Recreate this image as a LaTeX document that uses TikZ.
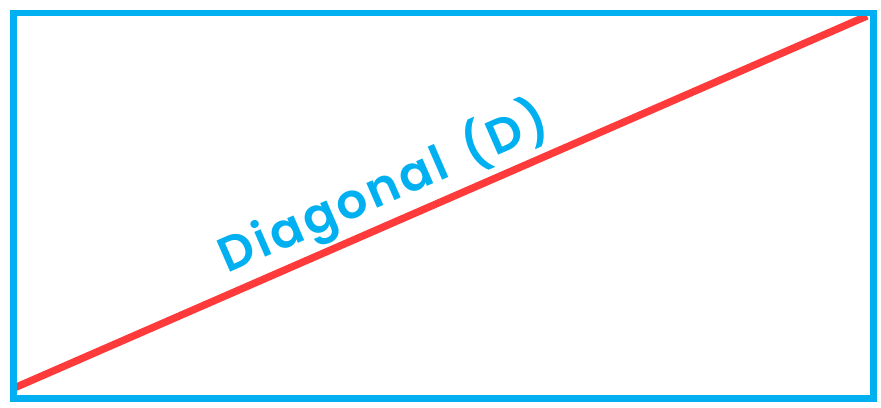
\documentclass[tikz,border=0pt]{standalone}
\usepackage{fontspec}
\newfontfamily\popfont{Poppins}[UprightFont={* SemiBold}, LetterSpace=6]
\definecolor{frameblue}{RGB}{0,176,240}
\definecolor{diagred}{RGB}{255,58,58}
\tikzset{
  framebox/.style={draw=frameblue, line width=4.9pt},
  diagline/.style={draw=diagred, line width=5.5pt},
  diaglabel/.style={text=frameblue, font=\popfont\fontsize{36.5}{40}\selectfont, inner sep=0pt, anchor=base, rotate=23.56}
}
\begin{document}
\begin{tikzpicture}[x=0.75pt,y=-0.75pt]
\useasboundingbox (0,0) rectangle (881,407);
\coordinate (bl) at (13,388.5);
\coordinate (tr) at (867,16);
\draw[diagline] (bl) -- (tr);
\node[framebox, minimum width=860*0.75pt, minimum height=385.5*0.75pt, anchor=north west, inner sep=0pt] (frame) at (10,9.5) {};
\node[diaglabel] (lab) at (390,203) {Diagonal\hspace{5pt} (D)};
\end{tikzpicture}
\end{document}
